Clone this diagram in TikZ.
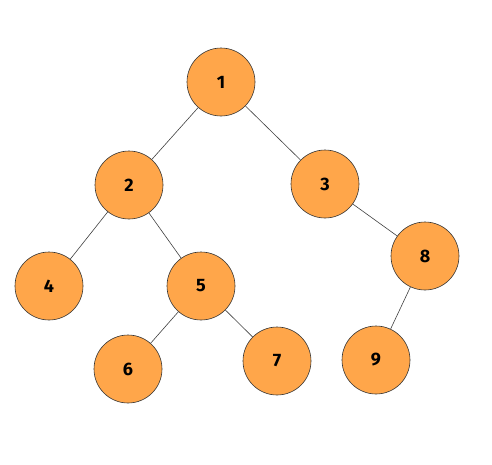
\documentclass[tikz,border=0pt]{standalone}
\usepackage{fontspec}
\setsansfont{Fira Sans}
\definecolor{nodeorange}{HTML}{FFA64A}
\begin{document}
\begin{tikzpicture}[x=1pt,y=-1pt,
  tn/.style={circle,draw=black!80,line width=0.6pt,fill=nodeorange,minimum size=68pt,inner sep=0pt,font=\sffamily\bfseries\fontsize{18}{21}\selectfont},
  edge/.style={draw=black!75,line width=0.6pt}]
\useasboundingbox (0,0) rectangle (492,464);
\node[tn] (n1) at (221,82) {1};
\node[tn] (n2) at (129,185) {2};
\node[tn] (n3) at (325,184) {3};
\node[tn] (n4) at (49,286) {4};
\node[tn] (n5) at (201,286) {5};
\node[tn] (n8) at (425,256) {8};
\node[tn] (n6) at (128,369) {6};
\node[tn] (n7) at (277,361) {7};
\node[tn] (n9) at (376,360) {9};
\draw[edge] (n1) -- (n2);
\draw[edge] (n1) -- (n3);
\draw[edge] (n2) -- (n4);
\draw[edge] (n2) -- (n5);
\draw[edge] (n3) -- (n8);
\draw[edge] (n5) -- (n6);
\draw[edge] (n5) -- (n7);
\draw[edge] (n8) -- (n9);
\end{tikzpicture}
\end{document}
